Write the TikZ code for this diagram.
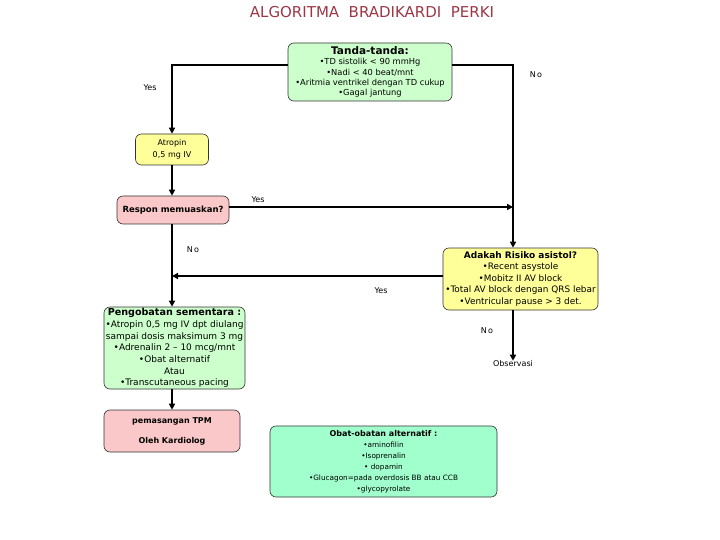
\documentclass[tikz,border=0pt]{standalone}
\usepackage{fontspec}
\setmainfont{DejaVu Sans}
\usetikzlibrary{arrows.meta,positioning}
\definecolor{boxgreen}{RGB}{204,255,204}
\definecolor{boxmint}{RGB}{160,255,204}
\definecolor{boxyellow}{RGB}{255,255,153}
\definecolor{boxpink}{RGB}{250,200,200}
\definecolor{titlered}{RGB}{155,55,70}
\begin{document}
\begin{tikzpicture}[x=1pt,y=-1pt,
  box/.style={draw=black!80,line width=0.6pt,rounded corners=6pt,align=center,inner sep=0.5pt,
    font=\fontsize{7.5}{10}\selectfont},
  conn/.style={line width=1.6pt},
  arr/.style={conn,-{Triangle[length=6pt,width=6pt]}},
  lbl/.style={font=\fontsize{8}{10}\selectfont,inner sep=0pt}]
\useasboundingbox (0,0) rectangle (720,540);
\node[font=\fontsize{15}{17}\selectfont,text=titlered] (title) at (372,12) {ALGORITMA\ \ BRADIKARDI\ \ PERKI};

\node[box,fill=boxgreen,minimum width=164pt,minimum height=58pt,font=\fontsize{8.3}{10.4}\selectfont] (tanda) at (370,72)
  {{\fontsize{10.5}{12}\selectfont\bfseries Tanda-tanda:}\\
   •TD sistolik < 90 mmHg\\ •Nadi < 40 beat/mnt\\
   •Aritmia ventrikel dengan TD cukup\\ •Gagal jantung};

\node[box,fill=boxyellow,minimum width=73pt,minimum height=31pt,font=\fontsize{8}{12}\selectfont] (atropin) at (172,149.5)
  {Atropin\\0,5 mg IV};

\node[box,fill=boxpink,minimum width=112pt,minimum height=28pt,font=\fontsize{8.5}{10}\selectfont\bfseries] (respon) at (173,210)
  {Respon memuaskan?};

\node[box,fill=boxyellow,minimum width=155pt,minimum height=62pt,font=\fontsize{8.9}{11.5}\selectfont] (adakah) at (520.5,279)
  {{\fontsize{9}{10}\selectfont\bfseries Adakah Risiko asistol?}\\
   •Recent asystole\\ •Mobitz II AV block\\
   •Total AV block dengan QRS lebar\\ •Ventricular pause > 3 det.};

\node[box,fill=boxgreen,minimum width=141pt,minimum height=82pt,font=\fontsize{9}{11.7}\selectfont] (pengob) at (174.5,348)
  {{\fontsize{9.6}{11}\selectfont\bfseries Pengobatan sementara :}\\
   •Atropin 0,5 mg IV dpt diulang\\ sampai dosis maksimum 3 mg\\
   •Adrenalin 2 – 10 mcg/mnt\\ •Obat alternatif\\ Atau\\ •Transcutaneous pacing};

\node[box,fill=boxpink,minimum width=136pt,minimum height=42pt,font=\fontsize{8}{20}\selectfont\bfseries] (pemas) at (172,431)
  {pemasangan TPM\\Oleh Kardiolog};

\node[box,fill=boxmint,minimum width=227pt,minimum height=71pt,font=\fontsize{7.3}{11}\selectfont] (obat) at (383.5,461.5)
  {{\fontsize{8}{10}\selectfont\bfseries Obat-obatan alternatif :}\\
   •aminofilin\\ •Isoprenalin\\ • dopamin\\
   •Glucagon=pada overdosis BB atau CCB\\ •glycopyrolate};

\node[lbl] (obs) at (513,364) {Observasi};

\coordinate (ty) at (0,65);
\coordinate (rt) at (513,0);
\coordinate (lt) at (172,0);
\coordinate (ay) at (0,276);
\coordinate (ry) at (0,207);

\draw[arr] (tanda.west |- ty) -| (atropin.north);
\draw[arr] (tanda.east |- ty) -| (adakah.north -| rt);
\draw[arr] (atropin.south) -- (respon.north -| atropin.south);
\draw[arr] (respon.east |- ry) -- (rt |- ry);
\draw[arr] (respon.south -| lt) -- (pengob.north -| lt);
\draw[arr] (adakah.west |- ay) -- (lt |- ay);
\draw[arr] (adakah.south -| rt) -- (obs.north -| rt);
\draw[arr] (pengob.south -| lt) -- (pemas.north -| lt);

\node[lbl] (l1) at (150,88) {Yes};
\node[lbl] (l2) at (536,75) {N\,o};
\node[lbl] (l3) at (258,200) {Yes};
\node[lbl] (l4) at (193,250) {N\,o};
\node[lbl] (l5) at (381,291) {Yes};
\node[lbl] (l6) at (487,331) {N\,o};
\end{tikzpicture}
\end{document}
